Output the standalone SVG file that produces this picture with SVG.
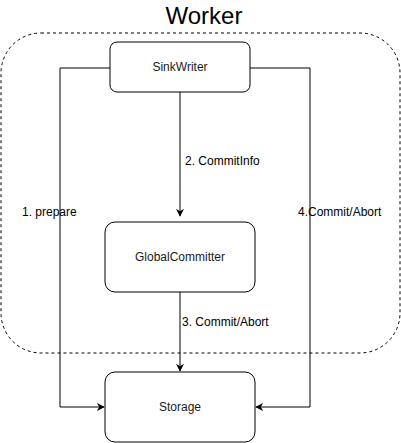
<svg xmlns="http://www.w3.org/2000/svg" width="401" height="443" viewBox="0 0 401 443">
<defs>
<style>
.box{fill:#fff;stroke:#000;stroke-width:1}
.lbl{font-family:"Liberation Sans",Arial,sans-serif;font-size:12px;fill:#1a1a1a;text-anchor:middle}
.edge{fill:none;stroke:#000;stroke-width:1}
.el{font-family:"Liberation Sans",Arial,sans-serif;font-size:12px;fill:#000}
</style>
<marker id="arr" viewBox="0 0 10 10" refX="9" refY="5" markerWidth="8" markerHeight="8" orient="auto" markerUnits="userSpaceOnUse">
<path d="M0,0 L10,5 L0,10 L3,5 Z" fill="#000"/>
</marker>
</defs>
<rect width="401" height="443" fill="#fff"/>
<g id="worker">
<rect x="1" y="33" width="399" height="320" rx="40" ry="40" fill="none" stroke="#000" stroke-dasharray="3,3"/>
<text x="204" y="24" font-family="'Liberation Sans',Arial,sans-serif" font-size="24" text-anchor="middle" fill="#000">Worker</text>
</g>
<g id="connectors">
<path class="edge" d="M180,92 V216" marker-end="url(#arr)"/>
<path class="edge" d="M110,68 H60 V407 H104" marker-end="url(#arr)"/>
<path class="edge" d="M250,68 H310 V407 H256" marker-end="url(#arr)"/>
<path class="edge" d="M180,292 V371" marker-end="url(#arr)"/>
<text class="el" x="185" y="165">2. CommitInfo</text>
<text class="el" x="22" y="216">1. prepare</text>
<text class="el" x="298" y="216">4.Commit/Abort</text>
<text class="el" x="182" y="326">3. Commit/Abort</text>
</g>
<g id="sinkwriter">
<rect class="box" x="110" y="42" width="140" height="50" rx="7"/>
<text class="lbl" x="180" y="71">SinkWriter</text>
</g>
<g id="globalcommitter">
<rect class="box" x="105" y="222" width="150" height="70" rx="10"/>
<text class="lbl" x="180" y="261">GlobalCommitter</text>
</g>
<g id="storage">
<rect class="box" x="105" y="372" width="150" height="70" rx="10"/>
<text class="lbl" x="180" y="411">Storage</text>
</g>
</svg>
